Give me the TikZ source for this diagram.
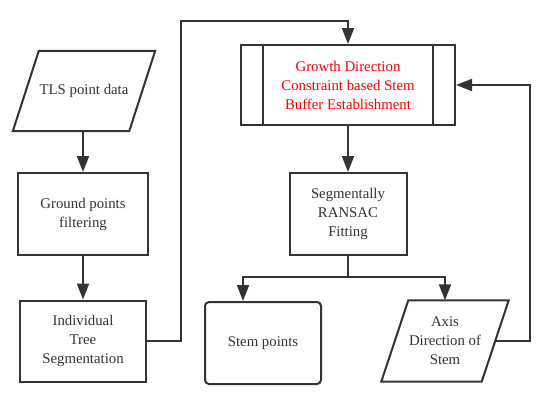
\documentclass[tikz,border=0pt]{standalone}
\usepackage{fontspec}
\setmainfont{Liberation Serif}
\usepackage{xcolor}
\usetikzlibrary{arrows.meta}

\definecolor{linegray}{HTML}{333333}

\tikzset{
    every node/.style={font=\fontsize{14.8}{19}\selectfont, align=center, text=linegray},
    stepbox/.style={draw=linegray, line width=2pt, rectangle},
    databox/.style={rectangle, inner sep=1pt},
    flow/.style={draw=linegray, line width=2pt, -{Triangle[width=12pt, length=16pt]}},
    link/.style={draw=linegray, line width=2pt, line join=miter},
}

\begin{document}
\begin{tikzpicture}[x=1pt, y=-1pt]
        \useasboundingbox (0, 0) rectangle (550, 410);
        \node[databox, minimum width=142, minimum height=80] (tls-data)      at ( 84,  91) {TLS point data};
        \node[stepbox, minimum width=130, minimum height=82] (ground-filter) at ( 83, 214) {Ground points\\filtering};
        \node[stepbox, minimum width=126, minimum height=81] (tree-seg)      at ( 83, 341) {Individual\\Tree\\Segmentation};
        \node[stepbox, minimum width=214, minimum height=80, text=red] (growth-buffer) at (348, 85)
            {Growth Direction\\Constraint based Stem\\Buffer Establishment};
        \node[stepbox, minimum width=117, minimum height=82] (ransac-fit)    at (348, 214) {Segmentally\\RANSAC\\Fitting};
        \node[stepbox, rounded corners=4pt, minimum width=116, minimum height=82] (stem-points) at (263, 343) {Stem points};
        \node[databox, minimum width=127, minimum height=81] (axis-dir)      at (445, 341) {Axis\\Direction of\\Stem};
        \coordinate (top-bend)   at (181,  21);
        \coordinate (fit-split)  at (348, 277);
        \coordinate (right-bend) at (530,  85);
        % parallelograms for the data nodes
        \draw[link] ([xshift=26]tls-data.north west) -- (tls-data.north east)
            -- ([xshift=-26]tls-data.south east) -- (tls-data.south west) -- cycle;
        \draw[link] ([xshift=27]axis-dir.north west) -- (axis-dir.north east)
            -- ([xshift=-27]axis-dir.south east) -- (axis-dir.south west) -- cycle;
        % side bars of the predefined process
        \draw[link] ([xshift=23]growth-buffer.north west) -- ([xshift=23]growth-buffer.south west);
        \draw[link] ([xshift=-23]growth-buffer.north east) -- ([xshift=-23]growth-buffer.south east);
        \draw[flow] ([xshift=-1]tls-data.south) -- (ground-filter);
        \draw[flow] (ground-filter) -- (tree-seg);
        \draw[flow] (tree-seg.east) -| (top-bend) -| (growth-buffer.north);
        \draw[flow] (growth-buffer) -- (ransac-fit);
        \draw[link] (ransac-fit.south) -- (fit-split);
        \draw[flow] (fit-split) -| ([xshift=-20]stem-points.north);
        \draw[flow] (fit-split) -| (axis-dir.north);
        \draw[flow] ([xshift=-13.5]axis-dir.east) -| (right-bend) -- (growth-buffer.east);
    \end{tikzpicture}
\end{document}
